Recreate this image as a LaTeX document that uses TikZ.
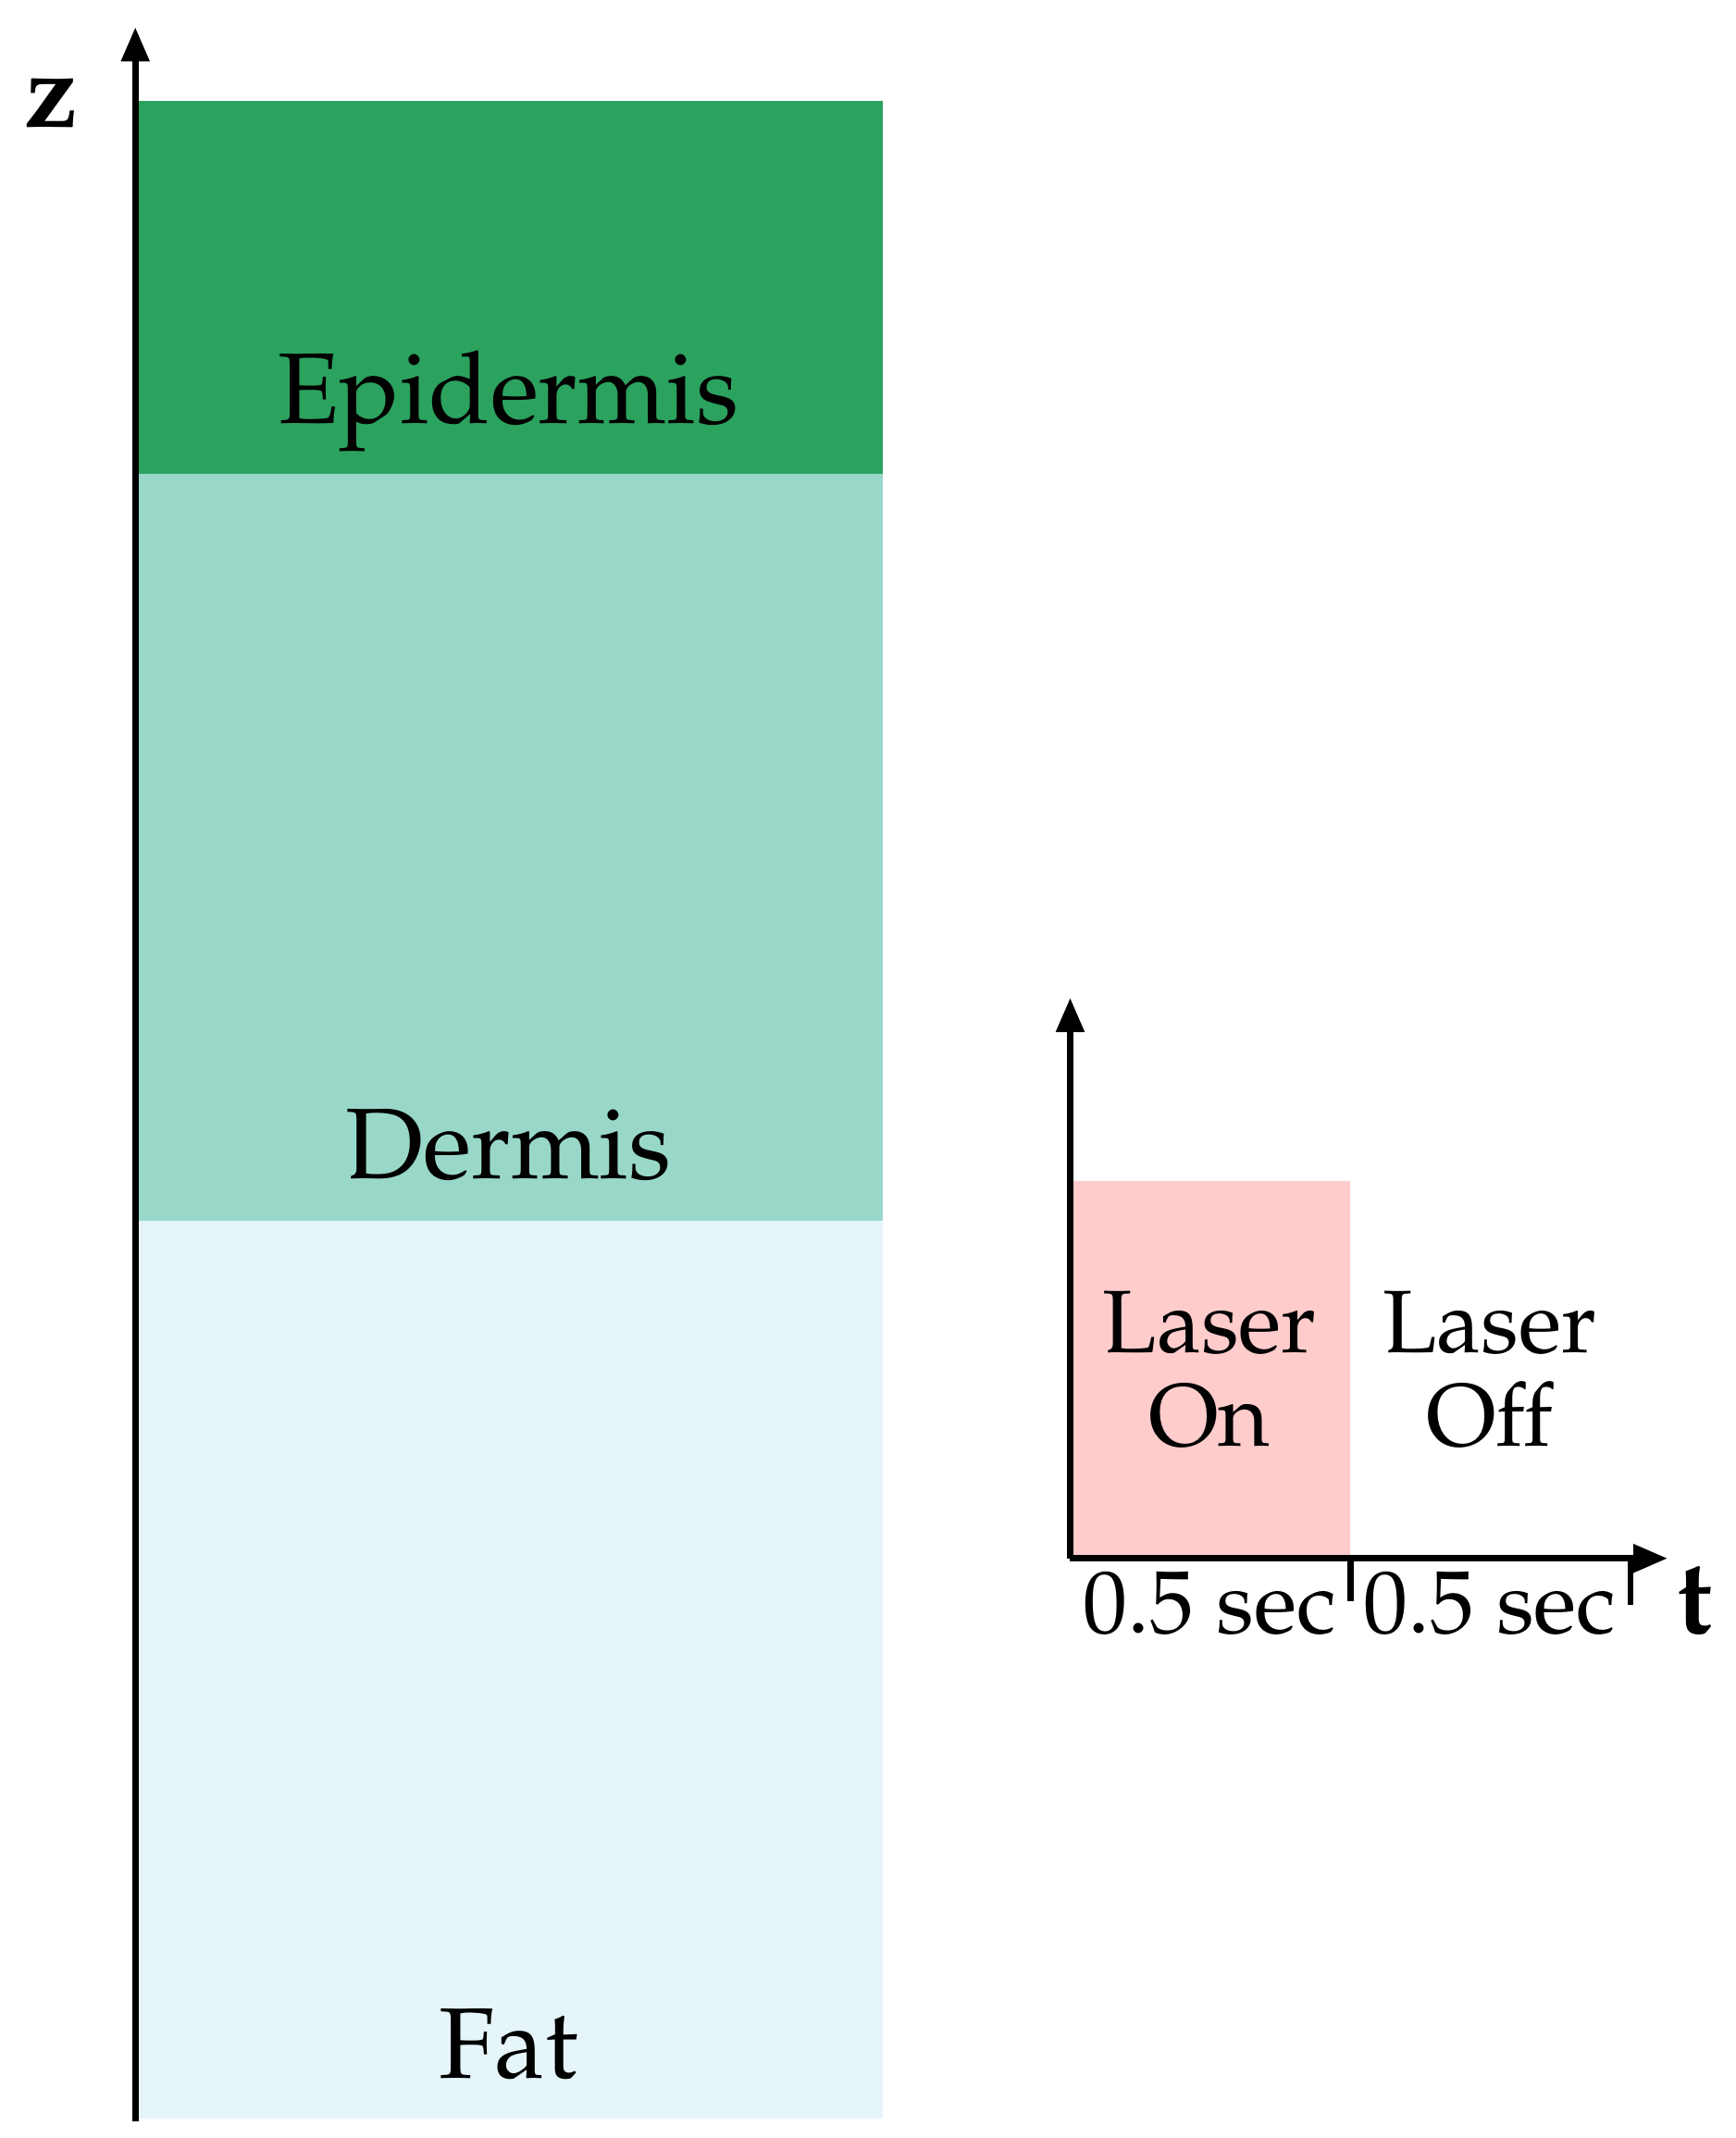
\documentclass[tikz,border=0pt]{standalone}
\usepackage[T1]{fontenc}
\usepackage{mathpazo}
\usetikzlibrary{arrows.meta}
\definecolor{epicolor}{HTML}{2CA25F}
\definecolor{dermcolor}{HTML}{99D8C9}
\definecolor{fatcolor}{HTML}{E5F5F9}
\definecolor{lasercolor}{HTML}{FFCCCC}
\tikzset{
  axis/.style={line width=1.3pt,-{Triangle[length=2.5mm,width=2mm]}},
  tick/.style={line width=1.3pt},
  layer/.style={anchor=base,font=\fontsize{20.9}{24}\selectfont},
  pulse/.style={anchor=base,align=center,font=\fontsize{18.5}{19.4}\selectfont},
}
\begin{document}
\begin{tikzpicture}
\useasboundingbox (0,0) rectangle(127mm,156.4mm);
% skin layers
\fill[fatcolor] (9.9mm,1.4mm) rectangle(64.6mm,67.1mm);
\fill[dermcolor] (9.9mm,67.1mm) rectangle(64.6mm,121.7mm);
\fill[epicolor] (9.9mm,121.7mm) rectangle(64.6mm,149.0mm);
\node[layer] (epi) at(37.2mm,125.4mm) {Epidermis};
\node[layer] (derm) at(37.2mm,70.2mm) {Dermis};
\node[layer] (fat) at(37.2mm,4.4mm) {Fat};
% depth axis
\coordinate (zbot) at(9.9mm,1.2mm);
\coordinate (ztop) at(9.9mm,154.4mm);
\draw[axis] (zbot) -- (ztop);
\node (zlab) at(3.8mm,148.8mm) {\fontsize{22}{24}\selectfont\textbf{z}};
% laser pulse
\coordinate (o) at(78.3mm,42.4mm);
\fill[lasercolor] (o) rectangle(98.8mm,70.0mm);
\draw[axis] (o) -- (78.3mm,83.4mm);
\draw[axis] (o) -- (122.0mm,42.4mm);
\coordinate (tickA) at(98.8mm,42.4mm);
\coordinate (tickB) at(119.3mm,42.4mm);
\draw[tick] (tickA) -- ++(0,-3.1mm);
\draw[tick] (tickB) -- ++(0,-3.4mm);
\node[pulse] (on) at(88.5mm,50.6mm) {Laser\\On};
\node[pulse] (off) at(109.0mm,50.6mm) {Laser\\Off};
\node[pulse] (secA) at(88.5mm,36.9mm) {0.5 sec};
\node[pulse] (secB) at(109.0mm,36.9mm) {0.5 sec};
\node[anchor=base] (tlab) at(124.0mm,36.9mm) {\fontsize{22}{24}\selectfont\textbf{t}};
\end{tikzpicture}
\end{document}
